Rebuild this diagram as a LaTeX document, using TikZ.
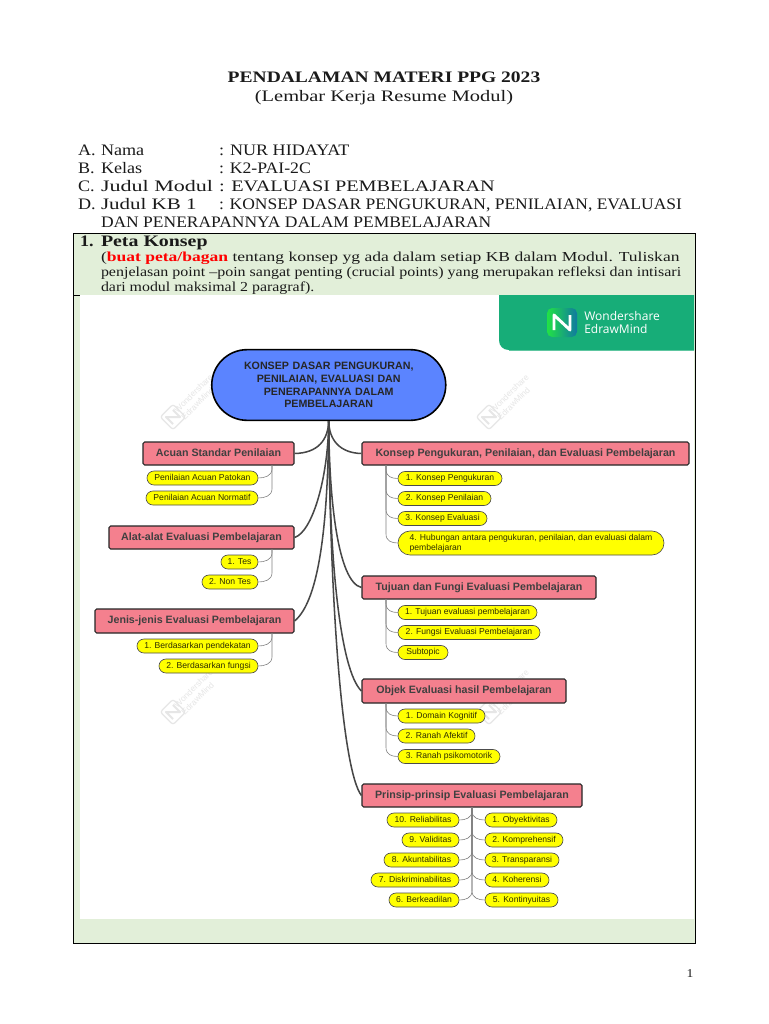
\documentclass[tikz,border=0pt]{standalone}
\usepackage{fontspec}
\usepackage{graphicx}
\setmainfont[FakeStretch=1.13]{Liberation Serif}
\setsansfont{Liberation Sans}
\newfontfamily\logofont{Open Sans}
\usetikzlibrary{calc,shapes.misc}
\definecolor{tablegreen}{HTML}{E2EFD9}
\definecolor{teal}{HTML}{17AD78}
\definecolor{rootblue}{HTML}{5B84FF}
\definecolor{pinkbox}{HTML}{F4808E}
\definecolor{yel}{HTML}{FFFF00}
\definecolor{ink}{HTML}{1A1A1A}
\definecolor{wm}{HTML}{E6E6E6}
\newcommand{\sx}[2]{\scalebox{#1}[1]{#2}}
\tikzset{
  x=0.75pt,y=-0.75pt,
  txt/.style={anchor=base west,inner sep=0pt,outer sep=0pt,font=\fontsize{12}{14}\selectfont,text=ink},
  ttl/.style={anchor=base,inner sep=0pt,outer sep=0pt,font=\fontsize{12}{14}\selectfont,text=ink},
  small/.style={txt,font=\fontsize{10.3}{12}\selectfont},
  rootbox/.style={draw=black,line width=1.2pt,fill=rootblue,rounded rectangle,inner sep=0pt,
    text width=150pt,align=center,font=\sffamily\bfseries\fontsize{8}{9.55}\selectfont,text=black!85},
  branch/.style={draw=black!85,line width=0.85pt,fill=pinkbox,rounded corners=1.2pt,inner sep=0pt,
    text height=6pt,text depth=1.7pt,
    font=\sffamily\bfseries\fontsize{8}{9}\selectfont,text=black!75},
  leaf/.style={draw=black!70,line width=0.5pt,fill=yel,rounded rectangle,inner sep=0pt,
    font=\sffamily\fontsize{6.45}{7.5}\selectfont,text=black!70!yel!60!black},
  leafline/.style={leaf,text height=4.8pt,text depth=1.4pt},
  maincon/.style={draw=black!72,line width=1.15pt},
  subcon/.style={draw=black!50,line width=0.45pt},
  wmtext/.style={inner sep=0pt,text=wm,rotate=45,align=left,font=\sffamily\fontsize{6.3}{7.5}\selectfont},
}
% name, left, right, top, bottom, text
\newcommand{\bnode}[6]{\node[branch,minimum width={(#3-#2)*0.75pt},minimum height={(#5-#4)*0.75pt}] (#1) at ({(#2+#3)/2},{(#4+#5)/2}) {#6};}
\newcommand{\lnode}[5]{\node[leafline,minimum width={(#3-#2)*0.75pt},minimum height=10.5pt] (#1) at ({(#2+#3)/2},#4) {#5};}
% trunk coordinate, child
\newcommand{\subleft}[2]{\draw[subcon] (#1) -- ($(#2.east -| #1)+(0,-9)$) .. controls +(0,7) and +(6,0) .. (#2.east);}
\newcommand{\subright}[2]{\draw[subcon] (#1) -- ($(#2.west -| #1)+(0,-9)$) .. controls +(0,7) and +(-6,0) .. (#2.west);}
\newcommand{\watermark}[3]{%
  \begin{scope}[shift={(#1,#2)}]
    \draw[wm,line width=0.9pt,rounded corners=2pt,rotate=45,fill=white] (-9,-9) rectangle (9,9);
    \draw[wm,line width=1.5pt,line join=round,rotate=45] (-5,5) -- (-5,-5) -- (5,5) -- (5,-5);
    \node[wmtext] (#3) at (24,-20) {Wondershare\\EdrawMind};
  \end{scope}}
\begin{document}
\begin{tikzpicture}
\useasboundingbox (0,0) rectangle (768,1024);
\fill[white] (0,0) rectangle (768,1024);
% table
\fill[tablegreen] (73,233) rectangle (695,943);
\fill[white] (80,295) rectangle (694,919);
\draw[black,line width=0.75pt] (73,233) rectangle (695.5,943);
\draw[black,line width=0.75pt] (73,295) -- (80,295);
% logo
\fill[teal] (499,295) -- (694,295) -- (694,350) -- (509,350) .. controls (503,350) and (499,346) .. (499,340) -- cycle;
\draw[teal!70!white,line width=0.4pt] (509,350) -- (694,350);
\shade[left color=green!60!teal!90!white,right color=teal!70!blue,rounded corners=4pt] (547,308) rectangle (577,337);
\draw[white,line width=2.2pt,line join=round] (554,330) -- (554,315) -- (570,330) -- (570,315);
\node[anchor=base west,inner sep=0pt,text=white,font=\logofont\fontsize{9}{10}\selectfont] (logoa) at (584,320.5) {Wondershare};
\node[anchor=base west,inner sep=0pt,text=white,font=\logofont\fontsize{9}{10}\selectfont] (logob) at (584,333) {EdrawMind};
% header
\node[ttl,font=\fontsize{12}{14}\selectfont\bfseries] (t1) at (384,82.5) {\sx{1.08}{PENDALAMAN MATERI PPG 2023}};
\node[ttl] (t2) at (384,101) {\sx{1.13}{(Lembar Kerja Resume Modul)}};
\node[txt] (a1) at (78,155) {A.}; \node[txt] (a2) at (101,155) {Nama}; \node[txt] (a3) at (219,155) {: NUR HIDAYAT};
\node[txt] (b1) at (78,173) {B.}; \node[txt] (b2) at (101,173) {Kelas}; \node[txt] (b3) at (219,173) {\sx{.98}{: K2-PAI-2C}};
\node[txt] (c1) at (78,191) {C.}; \node[txt] (c2) at (101,191) {\sx{1.22}{Judul Modul}}; \node[txt] (c3) at (219,191) {\sx{1.12}{: EVALUASI PEMBELAJARAN}};
\node[txt] (d1) at (78,209) {D.}; \node[txt] (d2) at (101,209) {\sx{1.16}{Judul KB 1}}; \node[txt] (d3) at (219,209) {\sx{.967}{: KONSEP DASAR PENGUKURAN, PENILAIAN, EVALUASI}};
\node[txt] (d4) at (101,227) {\sx{.967}{DAN PENERAPANNYA DALAM PEMBELAJARAN}};
\node[txt,font=\fontsize{12}{14}\selectfont\bfseries] (p1) at (80,246) {1.};
\node[txt,font=\fontsize{12}{14}\selectfont\bfseries] (p2) at (101,246) {\sx{1.10}{Peta Konsep}};
\node[small] (q1) at (101,261) {\sx{1.13}{(\textcolor{red}{\textbf{buat peta/bagan}} tentang konsep yg ada dalam setiap KB dalam Modul. Tuliskan}};
\node[small] (q2) at (101,276) {\sx{1.03}{penjelasan point –poin sangat penting (crucial points) yang merupakan refleksi dan intisari}};
\node[small] (q3) at (101,291) {\sx{1.025}{dari modul maksimal 2 paragraf).}};
\node[anchor=base,inner sep=0pt,font=\fontsize{9}{11}\selectfont,text=ink] (pg) at (690,977) {1};
% watermarks
\watermark{173}{417}{wa}
\watermark{489}{417}{wb}
\watermark{173}{712}{wc}
\watermark{489}{712}{wd}
% root and branches
\node[rootbox,minimum width=175.5pt,minimum height=53pt] (root) at (328.75,385) {KONSEP DASAR PENGUKURAN,\\PENILAIAN, EVALUASI DAN\\PENERAPANNYA DALAM\\PEMBELAJARAN};
\bnode{acuan}{143}{294}{442}{465}{Acuan Standar Penilaian}
\bnode{alat}{109}{294}{526}{549}{Alat-alat Evaluasi Pembelajaran}
\bnode{jenis}{95}{294}{609}{633}{Jenis-jenis Evaluasi Pembelajaran}
\bnode{konsep}{362}{689}{442}{465}{Konsep Pengukuran, Penilaian, dan Evaluasi Pembelajaran}
\bnode{tujuan}{362}{596}{576}{599}{Tujuan dan Fungi Evaluasi Pembelajaran}
\bnode{objek}{362}{566}{679}{703}{Objek Evaluasi hasil Pembelajaran}
\bnode{prinsip}{362}{582}{784}{807}{Prinsip-prinsip Evaluasi Pembelajaran}
% main connectors
\draw[maincon] (root.south) .. controls (328,440) and (318,453) .. (acuan.east);
\draw[maincon] (root.south) .. controls (328,480) and (312,532) .. (alat.east);
\draw[maincon] (root.south) .. controls (328,520) and (320,600) .. (jenis.east);
\draw[maincon] (root.south) .. controls (329,440) and (340,453) .. (konsep.west);
\draw[maincon] (root.south) .. controls (329,500) and (338,582) .. (tujuan.west);
\draw[maincon] (root.south) .. controls (329,560) and (340,670) .. (objek.west);
\draw[maincon] (root.south) .. controls (330,600) and (342,770) .. (prinsip.west);
% leaves left
\lnode{la}{147}{258}{478}{Penilaian Acuan Patokan}
\lnode{lb}{146}{258}{498}{Penilaian Acuan Normatif}
\lnode{lc}{221}{258}{562}{1. Tes}
\lnode{ld}{202}{258}{582}{2. Non Tes}
\lnode{le}{137}{258}{646}{1. Berdasarkan pendekatan}
\lnode{lf}{159}{258}{666}{2. Berdasarkan fungsi}
% leaves right
\lnode{ra}{398}{502}{478.5}{1. Konsep Pengukuran}
\lnode{rb}{398}{491}{498.5}{2. Konsep Penilaian}
\lnode{rc}{398}{487}{518.5}{3. Konsep Evaluasi}
\node[leaf,minimum width=199.5pt,minimum height=18pt,align=left] (rd) at (531,543) {4. Hubungan antara pengukuran, penilaian, dan evaluasi dalam\\pembelajaran};
\lnode{re}{398}{537}{612.5}{1. Tujuan evaluasi pembelajaran}
\lnode{rf}{398}{540}{632.5}{2. Fungsi Evaluasi Pembelajaran}
\lnode{rg}{398}{448}{652.5}{Subtopic}
\lnode{rh}{398}{485}{716}{1. Domain Kognitif}
\lnode{ri}{398}{475}{736}{2. Ranah Afektif}
\lnode{rj}{398}{500}{756.5}{3. Ranah psikomotorik}
% prinsip leaves
\lnode{pa}{485}{557}{820}{1. Obyektivitas}
\lnode{pb}{485}{563}{840}{2. Komprehensif}
\lnode{pc}{485}{559}{860}{3. Transparansi}
\lnode{pd}{485}{549}{880}{4. Koherensi}
\lnode{pe}{485}{558}{900}{5. Kontinyuitas}
\lnode{pf}{387}{459}{820}{10. Reliabilitas}
\lnode{pg2}{402}{459}{840}{9. Validitas}
\lnode{ph}{384}{459}{860}{8. Akuntabilitas}
\lnode{pi}{371}{459}{880}{7. Diskriminabilitas}
\lnode{pj}{389}{459}{900}{6. Berkeadilan}
% sub connectors
\coordinate (ta) at (272,465); \coordinate (tb) at (272,549); \coordinate (tc) at (272,633);
\coordinate (td) at (386,465); \coordinate (te) at (386,599); \coordinate (tf) at (386,703);
\coordinate (tg) at (472,807);
\subleft{ta}{la}\subleft{ta}{lb}\subleft{tb}{lc}\subleft{tb}{ld}\subleft{tc}{le}\subleft{tc}{lf}
\subright{td}{ra}\subright{td}{rb}\subright{td}{rc}\subright{td}{rd}
\subright{te}{re}\subright{te}{rf}\subright{te}{rg}
\subright{tf}{rh}\subright{tf}{ri}\subright{tf}{rj}
\subright{tg}{pa}\subright{tg}{pb}\subright{tg}{pc}\subright{tg}{pd}\subright{tg}{pe}
\subleft{tg}{pf}\subleft{tg}{pg2}\subleft{tg}{ph}\subleft{tg}{pi}\subleft{tg}{pj}
\end{tikzpicture}
\end{document}
